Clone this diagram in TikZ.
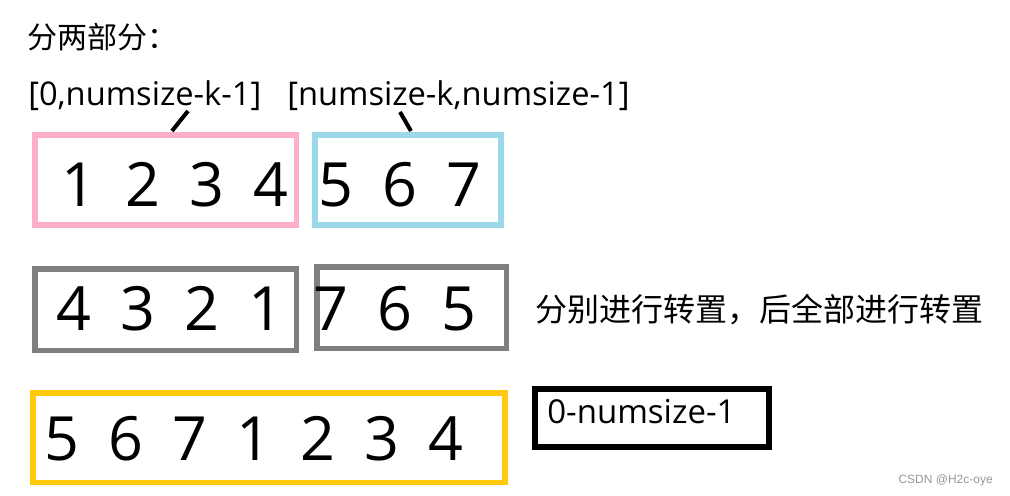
\documentclass[tikz,border=0pt]{standalone}
\usepackage{fontspec}
\setmainfont{Open Sans}
\newfontfamily\cjk{Noto Sans CJK SC}
\newfontfamily\wmfont{Liberation Sans}
% one digit in a cell of fixed width
\newcommand{\dgt}[1]{\makebox[48pt]{#1}}

\begin{document}
\begin{tikzpicture}[x=0.75pt,y=0.75pt,yscale=-1,xscale=1,
  box/.style={line width=4pt},
  nums/.style={anchor=base,inner sep=0pt,font=\fontsize{45.75pt}{50pt}\selectfont},
  lbl/.style={inner sep=0pt,font=\fontsize{24.5pt}{28pt}\selectfont},
  tick/.style={line width=3pt}]
\useasboundingbox (0,0) rectangle (1010,496);

%Shape: Rectangle [pink part]
\draw [box, draw={rgb, 255:red, 255; green, 174; blue, 201 }] (35,135) rectangle (296.5,225) ;
%Shape: Rectangle [blue part]
\draw [box, draw={rgb, 255:red, 153; green, 217; blue, 234 }] (315,135) rectangle (501,225) ;
%Shape: Rectangle [reversed parts]
\draw [box, draw={rgb, 255:red, 127; green, 127; blue, 127 }] (35,269) rectangle (296.5,350.5) ;
\draw [box, draw={rgb, 255:red, 127; green, 127; blue, 127 }] (317,267) rectangle (506.5,348.5) ;
%Shape: Rectangle [result]
\draw [box, draw={rgb, 255:red, 255; green, 201; blue, 14 }] (33,393) rectangle (505,482.5) ;
%Shape: Rectangle [range]
\draw [line width=4.5pt] (535,389) rectangle (769,447) ;

% Text Node
\node [lbl, anchor=west, font=\cjk\fontsize{22.5pt}{28pt}\selectfont] (title) at (27,37.5) {分两部分：};
% Text Node
\node [lbl, anchor=base west] (leftrange) at (28,105) {[0,numsize-k-1]};
% Text Node
\node [lbl, anchor=base west] (rightrange) at (287,105) {[numsize-k,numsize-1]};

%Straight Lines [ticks]
\coordinate (tickla) at (188,111);
\coordinate (ticklb) at (172,131);
\coordinate (tickra) at (400,112);
\coordinate (tickrb) at (411,131);
\draw [tick] (tickla) -- (ticklb) ;
\draw [tick] (tickra) -- (tickrb) ;

% Digits
\node [nums] (rowoneleft) at (174.5,206) {\dgt1\dgt2\dgt3\dgt4};
\node [nums] (rowoneright) at (399.5,206) {\dgt5\dgt6\dgt7};
\node [nums] (rowtwoleft) at (170,330) {\dgt4\dgt3\dgt2\dgt1};
\node [nums] (rowtworight) at (395,330) {\dgt7\dgt6\dgt5};
\node [nums] (rowthree) at (254,460) {\dgt5\dgt6\dgt7\dgt1\dgt2\dgt3\dgt4};

% Text Node
\node [lbl, anchor=west, font=\cjk\fontsize{24pt}{28pt}\selectfont] (note) at (535,310) {分别进行转置，后全部进行转置};
% Text Node
\node [lbl, anchor=base west, font=\fontsize{24.75pt}{28pt}\selectfont] (fullrange) at (547,423) {0-numsize-1};
% Text Node
\node [inner sep=0pt, anchor=east, font=\wmfont\fontsize{9pt}{10pt}\selectfont, text={rgb, 255:red, 150; green, 150; blue, 150 }] (mark) at (993,480) {CSDN @H2c-oye};

\end{tikzpicture}
\end{document}
